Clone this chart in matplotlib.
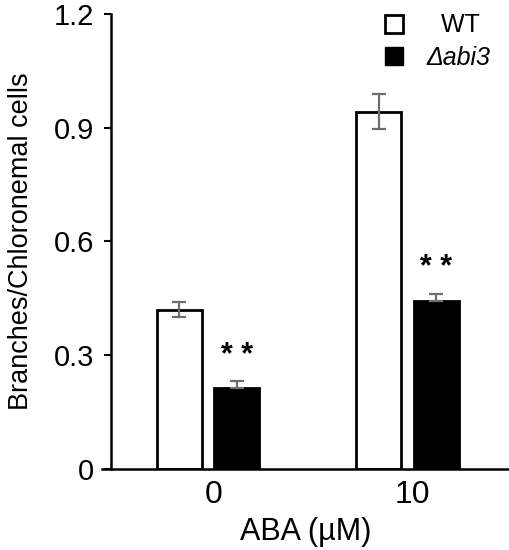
import matplotlib.pyplot as plt
from matplotlib.lines import Line2D

plt.rcParams['font.family'] = ['Liberation Sans', 'DejaVu Sans']

# data
doses = ["0", "10"]
wt_mean = [0.42, 0.942]
wt_err = [0.02, 0.046]
abi3_mean = [0.215, 0.443]
abi3_err = [0.016, 0.019]
stars = ["* *", "* *"]

fig = plt.figure(figsize=(5.09, 5.5), dpi=100)
ax = fig.add_axes([0.200, 0.147, 0.800, 0.828])

x = [0, 1]
w = 0.226
off = 0.144
xw = [i - off for i in x]
xa = [i + off for i in x]

ax.bar(xw, wt_mean, w, color="white", edgecolor="black", linewidth=2, zorder=2)
ax.bar(xa, abi3_mean, w, color="black", edgecolor="black", linewidth=2, zorder=2)
ax.errorbar(xw, wt_mean, yerr=wt_err, fmt="none", ecolor="#6e6e6e",
            elinewidth=1.6, capsize=5, capthick=1.6, zorder=3)
ax.errorbar(xa, abi3_mean, yerr=[[0, 0], abi3_err], fmt="none", ecolor="#6e6e6e",
            elinewidth=1.6, capsize=5, capthick=1.6, zorder=3)

for xi, m, e, s in zip(xa, abi3_mean, abi3_err, stars):
    ax.text(xi, m + e + 0.028, s, ha="center", va="bottom", fontsize=22,
            fontweight="bold")

ax.set_xlim(-0.533, 1.508)
ax.set_ylim(0, 1.2)
ax.set_yticks([0, 0.3, 0.6, 0.9, 1.2])
ax.set_yticklabels(["0", "0.3", "0.6", "0.9", "1.2"])
ax.set_xticks([i + 0.025 for i in x])
ax.set_xticklabels(doses)
ax.tick_params(axis="y", labelsize=21, width=1.5, length=5, pad=7)
ax.tick_params(axis="x", labelsize=23, length=0, pad=8)

ax.spines["top"].set_visible(False)
ax.spines["right"].set_visible(False)
ax.spines["left"].set_linewidth(1.8)
ax.spines["bottom"].set_linewidth(1.8)
ax.spines["left"].set_position(("axes", 0.022))

ax.set_ylabel("Branches/Chloronemal cells", fontsize=19.5, labelpad=14)
ax.set_xlabel("ABA (µM)", fontsize=22, labelpad=5)

handles = [
    Line2D([], [], marker="s", linestyle="none", markersize=13,
           markerfacecolor="white", markeredgecolor="black", markeredgewidth=2),
    Line2D([], [], marker="s", linestyle="none", markersize=13,
           markerfacecolor="black", markeredgecolor="black"),
]
leg = ax.legend(handles, ["  WT", "Δabi3"], loc="upper right",
                bbox_to_anchor=(1.01, 1.05), frameon=False, fontsize=18,
                handletextpad=0.3, labelspacing=0.35)
leg.get_texts()[1].set_fontstyle("italic")

fig.savefig("out.png", dpi=100)
